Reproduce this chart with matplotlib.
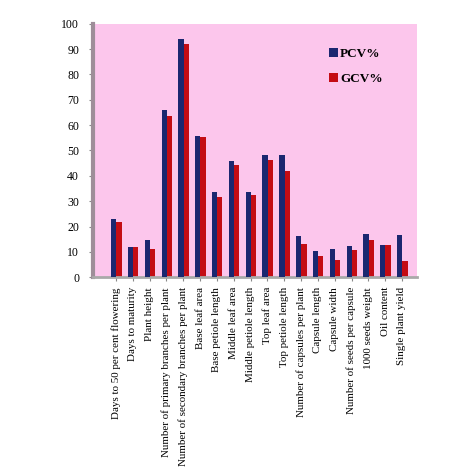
import matplotlib
matplotlib.use("Agg")
import matplotlib.pyplot as plt
import numpy as np

categories = [
    "Days to 50 per cent flowering", "Days to maturity", "Plant height",
    "Number of primary branches per plant", "Number of secondary branches per plant",
    "Base leaf area", "Base petiole length", "Middle leaf area", "Middle petiole length",
    "Top leaf area", "Top petiole length", "Number of capsules per plant",
    "Capsule length", "Capsule width", "Number of seeds per capsule",
    "1000 seeds weight", "Oil content", "Single plant yield",
]
pcv = [22.8, 12.0, 14.6, 65.8, 94.0, 55.8, 33.5, 45.8, 33.8, 48.2, 48.2, 16.2, 10.5, 11.3, 12.5, 17.0, 12.8, 16.8]
gcv = [21.8, 11.8, 11.3, 63.6, 92.0, 55.2, 31.5, 44.2, 32.5, 46.2, 42.0, 13.3, 8.2, 6.8, 10.9, 14.6, 12.6, 6.3]
series_names = ["PCV%", "GCV%"]
yticks = list(range(0, 101, 10))

serif = ["Liberation Serif", "DejaVu Serif"]
fig = plt.figure(figsize=(4.74, 4.74), dpi=100)
fig.patch.set_facecolor("white")
ax = fig.add_axes([0.196, 0.415, 0.684, 0.535])
ax.set_facecolor("#fcc6ec")

x = np.arange(len(categories))
w = 0.31
ax.bar(x - w / 2 + 0.02, pcv, width=w, color="#1b2770", label=series_names[0], zorder=3)
ax.bar(x + w / 2 + 0.02, gcv, width=w, color="#c40c14", label=series_names[1], zorder=2)

ax.set_xlim(-1.37, len(categories) - 0.1)
ax.set_ylim(0, 100)
ax.set_yticks(yticks)
ax.set_yticklabels([str(t) for t in yticks], fontfamily=serif, fontsize=8.5)
ax.set_xticks(x)
ax.set_xticklabels(categories, rotation=90, fontfamily=serif, fontsize=7.9, va="top", ha="center")
ax.tick_params(axis="x", length=3, color="#888888", pad=4)
ax.tick_params(axis="y", length=3, color="#888888", pad=7)

for s in ["top", "right"]:
    ax.spines[s].set_visible(False)
ax.spines["left"].set_color("#9e8e99")
ax.spines["left"].set_linewidth(3)
ax.spines["bottom"].set_color("#a9a9a9")
ax.spines["bottom"].set_linewidth(2)

leg = ax.legend(loc="upper right", bbox_to_anchor=(0.93, 0.95), frameon=False,
                prop={"family": serif, "weight": "bold", "size": 9.5},
                handlelength=0.7, handleheight=0.7, handletextpad=0.15, labelspacing=0.95)

fig.savefig("out.png", dpi=100, facecolor="white")
